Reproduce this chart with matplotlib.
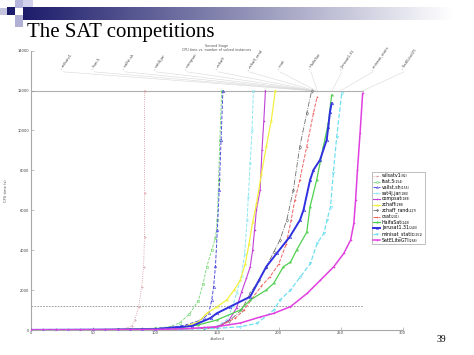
import numpy as np
import matplotlib
matplotlib.use("Agg")
import matplotlib.pyplot as plt
from matplotlib.patches import Rectangle

# ---------------- data ----------------
solvers = ["wilsatv1", "fsat.5", "vallst.sh", "sat4j.jar", "compsat", "zchaff",
           "zchaff_rand", "csat", "HaifaSat", "Jerusat1.31", "minisat_static", "SatELiteGTI"]
solved = [92, 154, 155, 180, 189, 198, 227, 231, 243, 243, 251, 268]

wilsat_x = [0, 10, 20, 30, 40, 50, 60, 70, 78, 81.5, 84, 87, 89.5, 91, 91.8, 91.8, 91.8]
wilsat_y = [5, 7, 10, 14, 20, 28, 40, 60, 100, 200, 500, 1170, 2170, 3170, 4675, 6850, 12000]

fsat_x = [0, 10, 20, 30, 40, 50, 60, 70, 80, 90, 100, 112, 120, 128, 135, 139, 142, 146, 149, 150.5, 151.5, 152.5, 154]
fsat_y = [5, 7, 10, 12, 15, 20, 25, 35, 50, 70, 90, 165, 350, 800, 1450, 2300, 3170, 4010, 4600, 5500, 7500, 9500, 12000]

vallst_x = [0, 10, 20, 30, 40, 50, 60, 70, 80, 90, 100, 115, 125, 135, 140, 143.5, 146, 147.5, 149, 150.5, 152, 153.5, 155]
vallst_y = [5, 6, 8, 10, 12, 16, 20, 27, 35, 50, 70, 150, 250, 450, 620, 835, 1500, 2170, 3200, 5000, 7000, 9500, 12000]

sat4j_x = [0, 10, 20, 30, 40, 50, 60, 70, 80, 90, 100, 120, 140, 150, 158, 163, 166, 170, 172.5, 174.5, 175.5, 177, 178.5, 179.6]
sat4j_y = [3, 4, 6, 8, 10, 12, 15, 20, 25, 32, 40, 60, 90, 180, 500, 1200, 1838, 2700, 3800, 5500, 6680, 8355, 10000, 12000]

compsat_x = [0, 10, 20, 30, 40, 50, 60, 70, 80, 90, 100, 120, 140, 150, 160, 166, 170, 174, 177, 179, 180.5, 182, 185, 186.5, 188, 189.3]
compsat_y = [4, 6, 8, 10, 12, 15, 18, 22, 28, 34, 40, 60, 90, 120, 500, 1100, 1900, 2600, 3170, 4000, 5000, 6000, 7000, 9000, 10500, 12000]

zchaff_x = [0, 10, 20, 30, 40, 50, 60, 70, 80, 90, 100, 120, 135, 142, 150, 158, 164, 169, 173, 176, 179, 182, 186, 190, 194, 197.3]
zchaff_y = [4, 6, 8, 10, 12, 15, 18, 22, 28, 35, 45, 100, 400, 835, 1150, 1500, 2000, 2500, 3300, 4300, 5400, 6300, 7800, 9200, 10500, 12000]

zrand_x = [0, 10, 20, 30, 40, 50, 60, 70, 80, 90, 100, 120, 140, 150, 160, 170, 177, 184, 190, 196, 201, 206.5, 211.8, 217, 222.6, 226.6]
zrand_y = [4, 5, 7, 8, 10, 12, 15, 18, 22, 28, 35, 55, 90, 150, 450, 1000, 1838, 2500, 3175, 3900, 4512, 5515, 7018, 9190, 10860, 12000]

csat_x = [0, 10, 20, 30, 40, 50, 60, 70, 80, 90, 100, 120, 140, 150, 165, 172, 179.6, 186, 193, 200, 206, 210, 213, 217, 222.6, 228, 231]
csat_y = [4, 5, 7, 8, 10, 12, 14, 17, 20, 25, 30, 50, 80, 100, 600, 1000, 1670, 2200, 2674, 3300, 4300, 5500, 6500, 7520, 9190, 10860, 11700]

haifa_x = [0, 10, 20, 30, 40, 50, 60, 70, 80, 90, 100, 120, 135, 150, 169, 177, 190, 196, 203.8, 209.5, 214.5, 222.6, 225.3, 230.6, 236, 240, 242.7]
haifa_y = [4, 5, 7, 8, 10, 12, 14, 17, 20, 25, 30, 120, 250, 500, 1000, 1504, 2005, 2340, 3175, 3400, 4010, 4900, 6183, 7520, 9190, 10360, 11780]

jeru_x = [0, 10, 20, 30, 40, 50, 60, 70, 80, 90, 100, 130, 145, 150, 160.8, 177, 190, 198.4, 209, 217.2, 220, 225.3, 228, 233.3, 238.7, 240, 241.4, 242.7]
jeru_y = [6, 8, 10, 12, 15, 18, 20, 24, 28, 34, 40, 200, 600, 835, 1170, 1670, 3175, 3843, 4679, 5515, 6016, 7520, 8020, 8522, 9525, 10193, 10945, 11363]

minisat_x = [0, 10, 20, 30, 40, 50, 60, 70, 80, 90, 100, 120, 150, 169, 182.6, 196, 201, 209.5, 217.5, 225.6, 231, 236.4, 239, 241.8, 244, 246.8, 250.8]
minisat_y = [3, 4, 5, 6, 8, 10, 12, 15, 18, 21, 25, 40, 80, 165, 335, 1000, 1500, 2000, 2670, 3340, 4340, 4845, 5510, 6180, 7854, 9692, 11864]

satelite_x = [0, 10, 20, 30, 40, 50, 60, 70, 80, 90, 100, 130, 150, 169, 185, 196, 209.5, 223, 233.7, 244.4, 252.5, 258, 260.6, 262, 263.5, 265.6, 267.7]
satelite_y = [3, 4, 5, 6, 8, 9, 10, 12, 14, 17, 20, 80, 167, 350, 650, 835, 1170, 1840, 2505, 3170, 3840, 4510, 5345, 6513, 8000, 9860, 11864]

series_x = [wilsat_x, fsat_x, vallst_x, sat4j_x, compsat_x, zchaff_x,
            zrand_x, csat_x, haifa_x, jeru_x, minisat_x, satelite_x]
series_y = [wilsat_y, fsat_y, vallst_y, sat4j_y, compsat_y, zchaff_y,
            zrand_y, csat_y, haifa_y, jeru_y, minisat_y, satelite_y]

x_ticks = [0, 50, 100, 150, 200, 250, 300]
y_ticks = [0, 2000, 4000, 6000, 8000, 10000, 12000, 14000]
timeout_line = 1200
top_line = 12000
top_label_x = [26, 51, 76, 101, 126, 151, 176, 201, 226, 251, 276, 301]
leader_target_x = [226, 226.5, 227, 227.5, 228, 228.5, 229, 230, 231, 243, 250, 268]

# ---------------- styles ----------------
colors = ["#d09098", "#70d870", "#5050e0", "#8ce6f2", "#c040d8", "#f2f040",
          "#707070", "#f06060", "#50d050", "#3030e0", "#70e0f0", "#e040e0"]
styles = [":", "--", "--", "--", "-", "-", "-.", "--", "-", "-", "--", "-"]
markers = [".", "o", "^", "x", "+", "*", "d", "+", "*", "^", "v", "+"]
lws = [0.6, 0.6, 0.7, 0.7, 0.8, 0.9, 0.6, 0.7, 0.9, 1.4, 0.9, 1.1]

sub_map = str.maketrans("0123456789()", "₀₁₂₃₄₅₆₇₈₉₍₎")

fig = plt.figure(figsize=(4.74, 3.55), dpi=100)
fig.patch.set_facecolor("white")

# ---------------- slide decoration ----------------
deco = fig.add_axes([0, 0, 1, 1], zorder=-5)
deco.set_xlim(0, 474)
deco.set_ylim(355, 0)
deco.axis("off")
grad = np.linspace(0, 1, 256)
navy = np.array([0.11, 0.11, 0.42])
white = np.array([1, 1, 1])
img = np.array([[navy * (1 - g) + white * g for g in np.clip(grad * 1.05, 0, 1)]])
deco.imshow(img, extent=[23, 474, 20, 7], aspect="auto", zorder=0)
for (rx, ry, rw, rh, c) in [(0, 8, 7, 7, "#c4c4de"), (7, 7, 8, 8, "#1c1c6c"),
                             (15, 0, 8, 8, "#b4b4dc"), (23, 0, 10, 7, "#d2d2ec"),
                             (15, 15, 8, 12, "#b0b0d6")]:
    deco.add_patch(Rectangle((rx, ry), rw, rh, color=c, lw=0, zorder=1))

fig.text(27 / 474, 1 - 32 / 355, "The SAT competitions", family="Liberation Serif",
         fontsize=15, va="center", ha="left")
fig.text(441 / 474, 1 - 340 / 355, "39", family="Liberation Serif", fontsize=7,
         va="center", ha="center")

# ---------------- chart ----------------
ax = fig.add_axes([30.7 / 474, 1 - 330 / 355, 372 / 474, 279.3 / 355])
ax.set_xlim(0, 300)
ax.set_ylim(0, 14000)
for s in ["top", "right"]:
    ax.spines[s].set_visible(False)
for s in ["left", "bottom"]:
    ax.spines[s].set_color("#a8a8a8")
    ax.spines[s].set_linewidth(0.8)
ax.set_xticks(x_ticks)
ax.set_yticks(y_ticks)
ax.tick_params(direction="in", length=2, width=0.4, color="#909090",
               labelsize=2.6, labelcolor="#404040", pad=1)

ax.plot([0, 268], [top_line, top_line], color="#b0b0b0", lw=0.8, zorder=1)
ax.plot([0, 268], [timeout_line, timeout_line], color="#909090", lw=0.6,
        ls=(0, (2, 1.5)), zorder=1)

handles = []
for i in range(len(solvers)):
    lab = solvers[i] + ("(%d)" % solved[i]).translate(sub_map)
    h, = ax.plot(series_x[i], series_y[i], color=colors[i], ls=styles[i], lw=lws[i],
                 marker=markers[i], ms=1.8, mew=0.4, mfc="none", zorder=3, label=lab)
    handles.append(h)

# rotated names on top with leader lines
for i in range(len(solvers)):
    ax.text(top_label_x[i], 12980, "\u2013 " + solvers[i], rotation=55,
            rotation_mode="anchor", ha="left", va="bottom", fontsize=2.6,
            color="#404040", clip_on=False)
    ax.plot([top_label_x[i], leader_target_x[i]], [12940, top_line],
            color="#d8d8d8", lw=0.4, clip_on=False, zorder=1)

ax.text(150, 14150, "Second Stage", ha="center", va="bottom", fontsize=2.4,
        color="#505050", clip_on=False)
ax.text(150, 13950, "CPU time vs. number of solved instances", ha="center",
        va="bottom", fontsize=2.4, color="#505050", clip_on=False)
ax.set_ylabel("CPU time (s)", fontsize=2.6, color="#505050", labelpad=7)
ax.set_xlabel("#solved", fontsize=2.6, color="#505050", labelpad=1.5)

leg = ax.legend(handles=handles, loc="upper left",
                bbox_to_anchor=((372 - 30.7) / 372, (330 - 172) / 279.3),
                prop={"family": "DejaVu Sans", "size": 3.4},
                frameon=True, fancybox=False, edgecolor="#a0a0a0",
                handlelength=1.4, handleheight=0.4, labelspacing=0.15, borderpad=0.3,
                handletextpad=0.4, borderaxespad=0, markerscale=0.8)
leg.get_frame().set_linewidth(0.6)
leg.set_zorder(10)

fig.savefig("out.png", dpi=100, facecolor="white")
